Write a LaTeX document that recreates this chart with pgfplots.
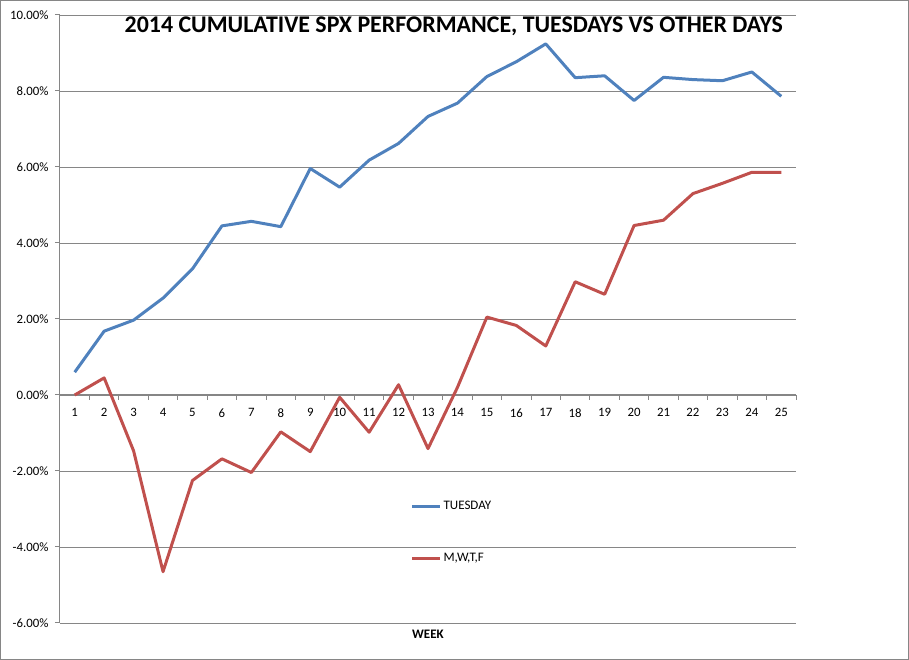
\documentclass[border=0pt]{standalone}
\usepackage{pgfplots}
\pgfplotsset{compat=1.18}
\usepackage{fontspec}
\setmainfont{Carlito}

\definecolor{tueblue}{RGB}{79,129,189}
\definecolor{mwtfred}{RGB}{192,80,77}
\definecolor{gridgray}{RGB}{134,134,134}

\pgfplotstableread{
week tue other
1  0.60  0.00
2  1.68  0.45
3  1.97 -1.47
4  2.55 -4.65
5  3.32 -2.25
6  4.45 -1.68
7  4.57 -2.04
8  4.43 -0.97
9  5.96 -1.49
10 5.47 -0.06
11 6.18 -0.98
12 6.62  0.27
13 7.33 -1.41
14 7.68  0.20
15 8.38  2.05
16 8.77  1.83
17 9.24  1.29
18 8.35  2.98
19 8.40  2.65
20 7.75  4.46
21 8.36  4.60
22 8.30  5.30
23 8.27  5.57
24 8.50  5.86
25 7.86  5.86
}\perfdata

\begin{document}
\begin{tikzpicture}
\useasboundingbox (-60pt,-37pt) rectangle (849pt,623pt);
\draw[gridgray, line width=1pt] (-59.5pt,-36.5pt) rectangle (848.5pt,622.5pt);
\begin{axis}[
  scale only axis,
  width=736pt, height=608pt,
  xmin=0.5, xmax=25.5,
  ymin=-6, ymax=10,
  axis y line*=left,
  axis x line*=middle,
  axis line style={gridgray, line width=1pt},
  xtick={1,...,25},
  minor xtick={0.5,1.5,...,25.5},
  ytick={-6,-4,...,10},
  minor ytick={-6,-4,...,10},
  major tick length=0pt,
  minor tick length=5pt,
  tick align=outside,
  tick style={gridgray, line width=1pt},
  ymajorgrids,
  grid style={gridgray, line width=0.8pt},
  /pgf/number format/assume math mode=true,
  tick label style={font=\fontsize{12.8}{15}\selectfont},
  yticklabel={\pgfmathprintnumber[fixed,fixed zerofill,precision=2]{\tick}\%},
  yticklabel style={xshift=-8pt},
  xticklabel style={yshift=-10pt},
  xlabel={WEEK},
  xlabel style={at={(rel axis cs:0.5,0)}, anchor=north, yshift=-4pt,
    font=\bfseries\fontsize{13}{15}\selectfont},
  title={2014 CUMULATIVE SPX PERFORMANCE, TUESDAYS VS OTHER DAYS},
  title style={at={(rel axis cs:0.535,1)}, anchor=north, yshift=-4pt,
    font=\bfseries\fontsize{23.9}{29}\selectfont},
  legend style={at={(rel axis cs:0.472,0.207)}, anchor=north west,
    draw=none, fill=none, row sep=38pt,
    font=\fontsize{13}{15}\selectfont},
  legend cell align=left,
  legend image code/.code={\draw[#1] (0pt,0pt) -- (28pt,0pt);},
  every axis plot/.append style={line width=3pt, line join=round},
]
\addplot[tueblue] table[x=week, y=tue] {\perfdata};
\addlegendentry{TUESDAY}
\addplot[mwtfred] table[x=week, y=other] {\perfdata};
\addlegendentry{M,W,T,F}
\end{axis}
\end{tikzpicture}
\end{document}
